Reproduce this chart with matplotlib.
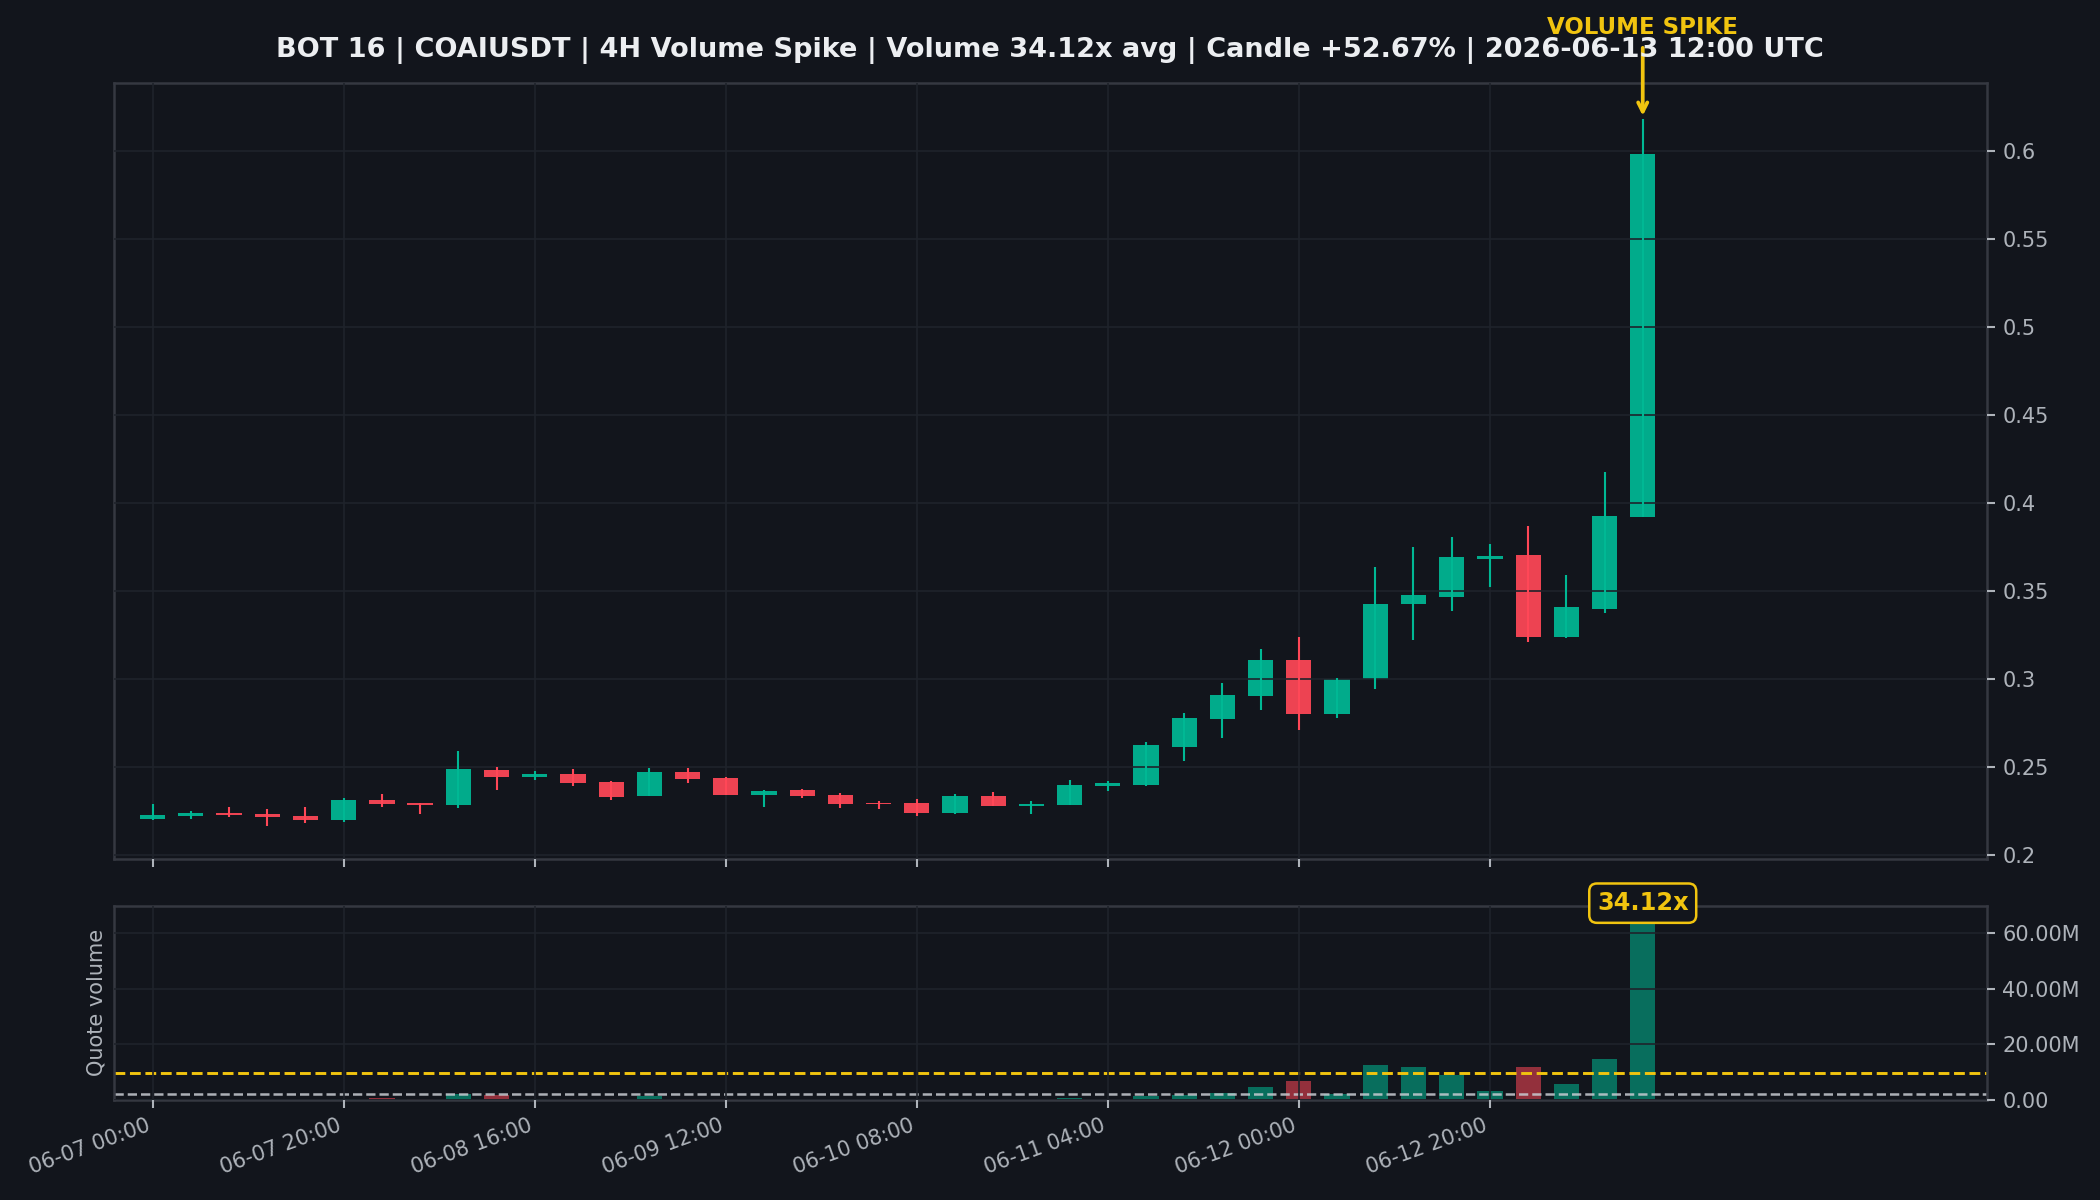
import numpy as np
import matplotlib
matplotlib.use("Agg")
from matplotlib import pyplot as plt
from matplotlib.ticker import FuncFormatter, MultipleLocator

#--------------data----------------------------------------
opens = [0.2203, 0.2220, 0.2241, 0.2233, 0.2224, 0.2197, 0.2315, 0.2298, 0.2282, 0.2485,
         0.2441, 0.2462, 0.2417, 0.2333, 0.2474, 0.2440, 0.2339, 0.2371, 0.2343, 0.2298,
         0.2296, 0.2237, 0.2335, 0.2277, 0.2283, 0.2390, 0.2396, 0.2612, 0.2771, 0.2902,
         0.3110, 0.2799, 0.2998, 0.3423, 0.3467, 0.3679, 0.3702, 0.3240, 0.3399, 0.3918]
highs = [0.2290, 0.2252, 0.2275, 0.2260, 0.2275, 0.2326, 0.2349, 0.2298, 0.2593, 0.2502,
         0.2478, 0.2491, 0.2422, 0.2496, 0.2496, 0.2445, 0.2371, 0.2377, 0.2354, 0.2306,
         0.2320, 0.2348, 0.2360, 0.2306, 0.2428, 0.2422, 0.2644, 0.2808, 0.2979, 0.3172,
         0.3240, 0.3006, 0.3634, 0.3747, 0.3804, 0.3764, 0.3866, 0.3588, 0.4173, 0.6180]
lows = [0.2200, 0.2203, 0.2214, 0.2167, 0.2180, 0.2190, 0.2275, 0.2231, 0.2265, 0.2367,
        0.2426, 0.2394, 0.2315, 0.2333, 0.2411, 0.2339, 0.2275, 0.2322, 0.2269, 0.2260,
        0.2224, 0.2230, 0.2277, 0.2230, 0.2283, 0.2362, 0.2390, 0.2536, 0.2667, 0.2822,
        0.2712, 0.2776, 0.2943, 0.3223, 0.3387, 0.3520, 0.3212, 0.3234, 0.3376, 0.3918]
closes = [0.2228, 0.2239, 0.2225, 0.2214, 0.2197, 0.2315, 0.2288, 0.2282, 0.2491, 0.2441,
          0.2462, 0.2407, 0.2328, 0.2474, 0.2430, 0.2339, 0.2366, 0.2333, 0.2288, 0.2287,
          0.2237, 0.2335, 0.2277, 0.2290, 0.2400, 0.2407, 0.2627, 0.2780, 0.2911, 0.3110,
          0.2799, 0.3000, 0.3426, 0.3475, 0.3690, 0.3698, 0.3240, 0.3408, 0.3923, 0.5982]
# quote volume in millions
volumes = [0.15, 0.1, 0.1, 0.1, 0.1, 0.2, 0.8, 0.15, 2.2, 1.9,
           0.15, 0.2, 0.4, 1.3, 0.4, 0.4, 0.1, 0.1, 0.1, 0.05,
           0.1, 0.15, 0.1, 0.05, 0.5, 0.1, 1.3, 1.7, 2.5, 4.5,
           6.7, 2.2, 12.5, 11.7, 9.1, 3.1, 11.9, 5.6, 14.6, 68.2]
tick_labels = ["06-07 00:00", "06-07 20:00", "06-08 16:00", "06-09 12:00",
               "06-10 08:00", "06-11 04:00", "06-12 00:00", "06-12 20:00"]
avg_vol = 2.0
spike_line = 9.55
spike_ratio = "34.12x"
title = "BOT 16 | COAIUSDT | 4H Volume Spike | Volume 34.12x avg | Candle +52.67% | 2026-06-13 12:00 UTC"

#--------------style-------------------
BG = "#12151c"
GREEN = "#00b894"
RED = "#ff4757"
YELLOW = "#f1c40f"
SPINE = "#353841"
GRID = "#1f232b"
TXT = "#aeb3ba"

plt.rcParams['font.family'] = ['DejaVu Sans']
fig = plt.figure(figsize=(14, 8), dpi=150, facecolor=BG)
ax = fig.add_axes([0.0545, 0.284, 0.8915, 0.647])
axv = fig.add_axes([0.0545, 0.0835, 0.8915, 0.1615], sharex=ax)

x = np.arange(len(opens))
o = np.array(opens); c = np.array(closes)
h = np.array(highs); l = np.array(lows)
up = c >= o
cols = np.where(up, GREEN, RED)

for a in (ax, axv):
    a.set_facecolor(BG)
    for s in a.spines.values():
        s.set_color(SPINE)
        s.set_linewidth(1.2)
    a.grid(True, color=GRID, linewidth=0.8, zorder=0)
    a.set_axisbelow(False)
    a.yaxis.tick_right()
    a.tick_params(colors=TXT, labelsize=10, length=4, width=1)

# candles
ax.bar(x, np.abs(c - o), bottom=np.minimum(o, c), width=0.66, color=cols,
       alpha=0.93, zorder=1, linewidth=0)
ax.vlines(x, l, h, colors=cols, linewidth=1.0, zorder=3)
ax.set_ylim(0.1976, 0.6386)
ax.yaxis.set_major_locator(MultipleLocator(0.05))
ax.yaxis.set_major_formatter(FuncFormatter(lambda v, p: f"{v:g}"))
ax.tick_params(axis='x', labelbottom=False)

ax.annotate("VOLUME SPIKE", xy=(x[-1], 0.6175), xytext=(x[-1], 0.6632),
            ha='center', va='bottom', color=YELLOW, fontsize=11, fontweight='bold',
            arrowprops=dict(arrowstyle='->', color=YELLOW, lw=1.8),
            annotation_clip=False)

# volume
vol = np.array(volumes) * 1e6
axv.bar(x, vol, width=0.66, color=cols, alpha=0.55, zorder=1, linewidth=0)
axv.axhline(spike_line * 1e6, color=YELLOW, linestyle='--', linewidth=1.4, zorder=2)
axv.axhline(avg_vol * 1e6, color="#c8ccd2", linestyle='--', linewidth=1.2, alpha=0.85, zorder=2)
axv.set_ylim(0, vol.max() * 1.025)
axv.yaxis.set_major_locator(MultipleLocator(20e6))
axv.yaxis.set_major_formatter(FuncFormatter(
    lambda v, p: f"{v/1e6:.2f}M" if v >= 1e6 else f"{v:.2f}"))
axv.set_ylabel("Quote volume", color=TXT, fontsize=10)
axv.yaxis.set_label_position('left')
axv.text(x[-1], vol.max() * 1.04, spike_ratio, ha='center', va='center',
         color=YELLOW, fontsize=11.5, fontweight='bold', zorder=5,
         bbox=dict(boxstyle='round,pad=0.32', fc=BG, ec=YELLOW, lw=1.2))

axv.set_xlim(-1, 48)
axv.set_xticks(x[::5])
axv.set_xticklabels(tick_labels, rotation=20, ha='right')

fig.text(0.5, 0.958, title, ha='center', va='center', color="#eceef1",
         fontsize=13, fontweight='bold')

plt.savefig("out.png", dpi=150, facecolor=BG)
